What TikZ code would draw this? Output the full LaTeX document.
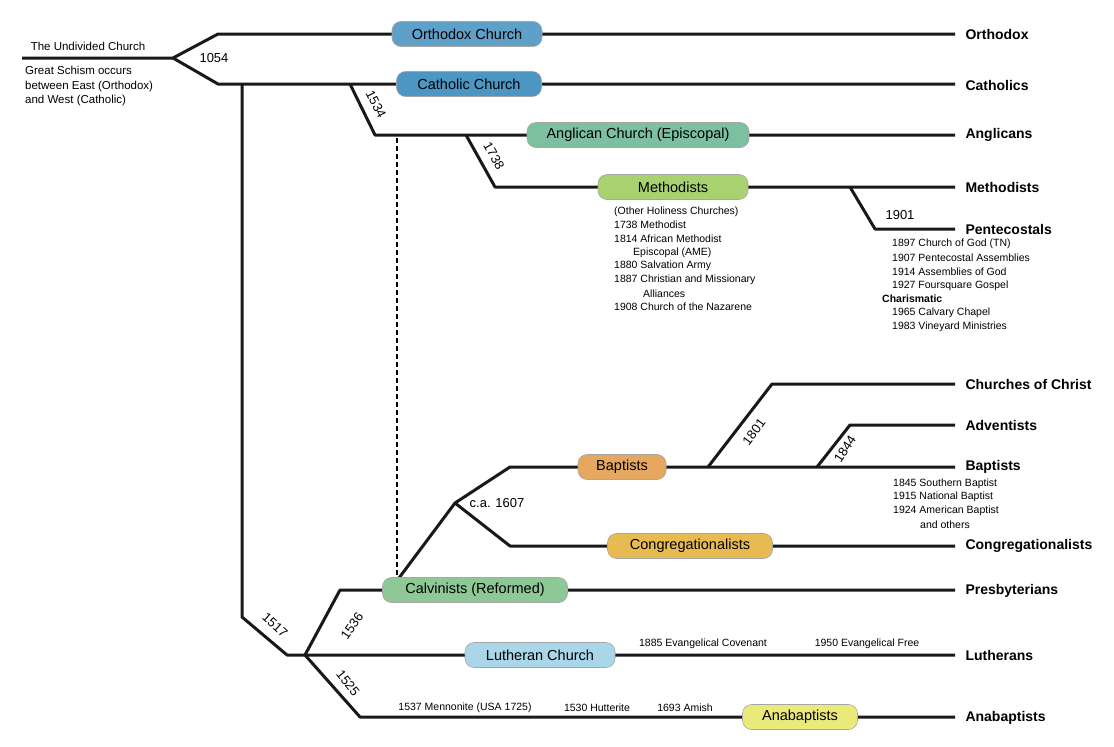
\documentclass[tikz,border=0pt]{standalone}
\usepackage{fontspec}
\setmainfont{Liberation Sans}
\begin{document}
\begin{tikzpicture}[x=1pt,y=-1pt,
 ln/.style={line width=3pt,black!90,line join=round},
 box/.style={rounded corners=9pt,draw=black!35,line width=0.6pt,minimum height=25pt,inner xsep=6pt,font=\fontsize{14.5}{16}\selectfont},
 lab/.style={anchor=west,font=\fontsize{14}{16}\selectfont\bfseries},
 sm/.style={anchor=west,font=\fontsize{10.5}{12}\selectfont,inner sep=0pt},
 yr/.style={font=\fontsize{13}{15}\selectfont,inner sep=1pt}]
\useasboundingbox (0,0) rectangle (1114,747);
\fill[white] (0,0) rectangle (1114,747);
% coordinates
\coordinate (u0) at (22,58); \coordinate (u1) at (173,58);
\coordinate (o0) at (218,34); \coordinate (o1) at (955,34);
\coordinate (c0) at (218,84); \coordinate (c1) at (955,84);
\coordinate (v0) at (242,84); \coordinate (v1) at (242,617);
\coordinate (l0) at (287,655); \coordinate (f) at (305,655); \coordinate (l1) at (955,655);
\coordinate (cv0) at (340,590); \coordinate (cv1) at (955,590);
\coordinate (an0) at (360,717); \coordinate (an1) at (955,717);
\coordinate (k0) at (350,84); \coordinate (a0) at (375,135); \coordinate (a1) at (955,135);
\coordinate (m) at (466,135); \coordinate (m0) at (495,187); \coordinate (m1) at (955,187);
\coordinate (p) at (850,187); \coordinate (p0) at (875,229); \coordinate (p1) at (955,229);
\coordinate (cj) at (455,503); \coordinate (b0) at (510,467); \coordinate (b1) at (955,467);
\coordinate (g0) at (510,546); \coordinate (g1) at (955,546);
\coordinate (cc) at (708,467); \coordinate (cc0) at (772,384); \coordinate (cc1) at (955,384);
\coordinate (ad) at (817,467); \coordinate (ad0) at (850,425); \coordinate (ad1) at (955,425);
\coordinate (cvs) at (390,590);
\coordinate (d0) at (397,138); \coordinate (d1) at (397,578);
% lines
\draw[ln] (u0)--(u1)--(o0)--(o1);
\draw[ln] (u1)--(c0)--(c1);
\draw[ln] (v0)--(v1)--(l0)--(l1);
\draw[ln] (f)--(cv0)--(cv1);
\draw[ln] (f)--(an0)--(an1);
\draw[ln] (k0)--(a0)--(a1);
\draw[ln] (m)--(m0)--(m1);
\draw[ln] (p)--(p0)--(p1);
\draw[ln] (cvs)--(cj)--(b0)--(b1);
\draw[ln] (cj)--(g0)--(g1);
\draw[ln] (cc)--(cc0)--(cc1);
\draw[ln] (ad)--(ad0)--(ad1);
\draw[line width=1.6pt,dash pattern=on 5pt off 3pt] (d0)--(d1);
% boxes
\node[box,fill={rgb,255:red,95;green,160;blue,200},minimum width=150pt] (ob) at (467,34) {Orthodox Church};
\node[box,fill={rgb,255:red,75;green,150;blue,195},minimum width=145pt] (cb) at (469,84) {Catholic Church};
\node[box,fill={rgb,255:red,125;green,192;blue,160},minimum width=222pt] (ab) at (638,135) {Anglican Church (Episcopal)};
\node[box,fill={rgb,255:red,168;green,210;blue,112},minimum width=150pt] (mb) at (673,187) {Methodists};
\node[box,fill={rgb,255:red,230;green,168;blue,96},minimum width=88pt] (bb) at (622,467) {Baptists};
\node[box,fill={rgb,255:red,232;green,186;blue,82},minimum width=165pt] (gb) at (690,546) {Congregationalists};
\node[box,fill={rgb,255:red,142;green,200;blue,150},minimum width=185pt] (cvb) at (475,590) {Calvinists (Reformed)};
\node[box,fill={rgb,255:red,170;green,214;blue,234},minimum width=150pt] (lb) at (540,655) {Lutheran Church};
\node[box,fill={rgb,255:red,234;green,234;blue,122},minimum width=115pt] (anb) at (800,717) {Anabaptists};
% right labels
\node[lab] (t1) at (962,34) {Orthodox};
\node[lab] (t2) at (962,85) {Catholics};
\node[lab] (t3) at (962,135) {Anglicans};
\node[lab] (t4) at (962,187) {Methodists};
\node[lab] (t5) at (962,229) {Pentecostals};
\node[lab] (t6) at (962,384) {Churches of Christ};
\node[lab] (t7) at (962,425) {Adventists};
\node[lab] (t8) at (962,467) {Baptists};
\node[lab] (t9) at (962,546) {Congregationalists};
\node[lab] (t10) at (962,591) {Presbyterians};
\node[lab] (t11) at (962,655) {Lutherans};
\node[lab] (t12) at (962,718) {Anabaptists};
% top-left texts
\node[font=\fontsize{11.5}{13}\selectfont] (ud) at (88,46) {The Undivided Church};
\node[sm,font=\fontsize{11.5}{14.5}\selectfont,anchor=north west,align=left] (gs) at (25,66) {Great Schism occurs\\between East (Orthodox)\\and West (Catholic)};
\node[yr] (y1054) at (214,58) {1054};
\node[yr] (y1901) at (900,215) {1901};
\node[yr] (y1607) at (497,503) {c.a. 1607};
\node[yr,rotate=-63] (y1534) at (376,104) {1534};
\node[yr,rotate=-60] (y1738) at (494,156) {1738};
\node[yr,rotate=53] (y1801) at (754,432) {1801};
\node[yr,rotate=57] (y1844) at (845,449) {1844};
\node[yr,rotate=55] (y1536) at (352,626) {1536};
\node[yr,rotate=-42] (y1517) at (275,625) {1517};
\node[yr,rotate=-52] (y1525) at (348,683) {1525};
% methodist list
\node[sm] at (614,212) {(Other Holiness Churches)};
\node[sm] at (614,225) {1738 Methodist};
\node[sm] at (614,239) {1814 African Methodist};
\node[sm] at (633,253) {Episcopal (AME)};
\node[sm] at (614,266) {1880 Salvation Army};
\node[sm] at (614,280) {1887 Christian and Missionary};
\node[sm] at (643,294) {Alliances};
\node[sm] at (614,307) {1908 Church of the Nazarene};
% pentecostal list
\node[sm] at (892,244) {1897 Church of God (TN)};
\node[sm] at (892,258) {1907 Pentecostal Assemblies};
\node[sm] at (892,272) {1914 Assemblies of God};
\node[sm] at (892,286) {1927 Foursquare Gospel};
\node[sm,font=\fontsize{10.5}{12}\selectfont\bfseries] at (882,299) {Charismatic};
\node[sm] at (892,313) {1965 Calvary Chapel};
\node[sm] at (892,327) {1983 Vineyard Ministries};
% baptist list
\node[sm] at (893,484) {1845 Southern Baptist};
\node[sm] at (893,497) {1915 National Baptist};
\node[sm] at (893,511) {1924 American Baptist};
\node[sm] at (920,525) {and others};
% lutheran / anabaptist notes
\node[sm,anchor=center] at (703,644) {1885 Evangelical Covenant};
\node[sm,anchor=center] at (867,644) {1950 Evangelical Free};
\node[sm,anchor=center] at (465,708) {1537 Mennonite (USA 1725)};
\node[sm,anchor=center] at (597,708) {1530 Hutterite};
\node[sm,anchor=center] at (685,708) {1693 Amish};
\end{tikzpicture}
\end{document}
